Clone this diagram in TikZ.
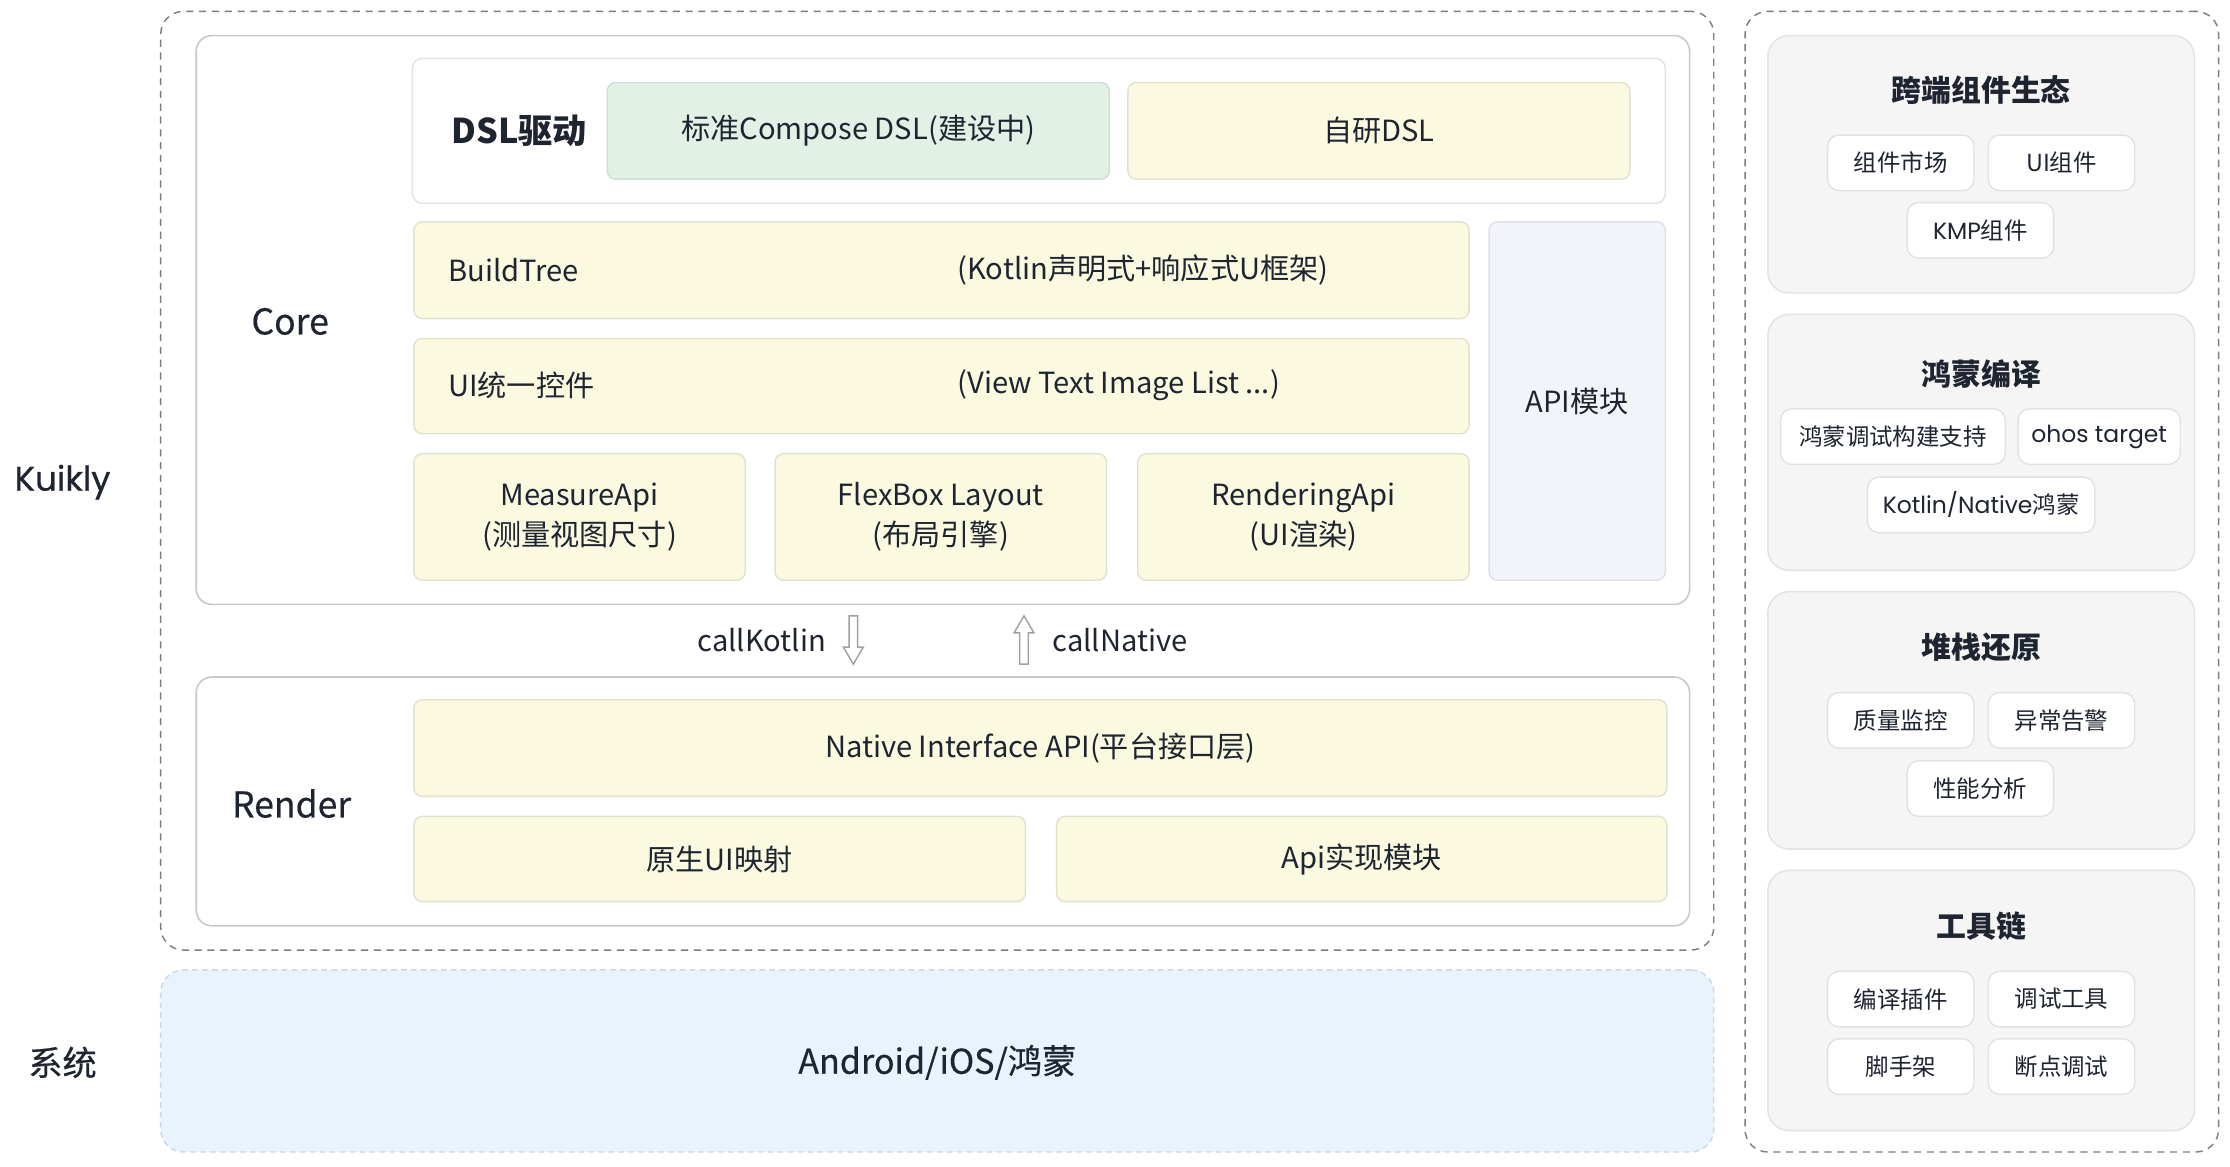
\documentclass[tikz,border=0pt]{standalone}
\usepackage{fontspec}
\setmainfont{Noto Sans CJK SC}
\newfontfamily\pop{Poppins}
\newfontfamily\popm[FakeBold=0.7]{Poppins}
\newfontfamily\cjkm[FakeBold=0.5]{Noto Sans CJK SC}
\definecolor{ink}{RGB}{30,36,48}
\definecolor{yel}{RGB}{251,250,224}
\definecolor{yelb}{RGB}{225,225,208}
\definecolor{grn}{RGB}{226,241,229}
\definecolor{grnb}{RGB}{205,222,210}
\definecolor{lav}{RGB}{243,244,250}
\definecolor{lavb}{RGB}{222,224,232}
\definecolor{cb}{RGB}{200,200,200}
\definecolor{sys}{RGB}{232,243,253}
\definecolor{sysb}{RGB}{205,215,225}
\definecolor{pan}{RGB}{245,245,246}
\definecolor{panb}{RGB}{226,226,228}
\definecolor{dsh}{RGB}{125,125,125}
\definecolor{arrg}{RGB}{160,160,160}
\newcommand\fsz[1]{\fontsize{#1}{#1}\selectfont}
\tikzset{
  x=1pt,y=1pt,
  base/.style={inner sep=0pt, outer sep=0pt, anchor=north west, text=ink},
  dashbox/.style={base, draw=dsh, line width=1pt, dash pattern=on 5pt off 4pt, rounded corners=16pt},
  layer/.style={base, draw=cb, line width=1.1pt, fill=white, rounded corners=11pt},
  ybox/.style={base, fill=yel, draw=yelb, line width=1pt, rounded corners=6pt, font=\fsz{20.5}, align=center},
  gbox/.style={ybox, fill=grn, draw=grnb},
  abox/.style={ybox, fill=lav, draw=lavb},
  sysbox/.style={base, fill=sys, draw=sysb, line width=1pt, dash pattern=on 4pt off 3pt, rounded corners=16pt},
  panel/.style={base, fill=pan, draw=panb, line width=1pt, rounded corners=15pt},
  chip/.style={inner sep=0pt, outer sep=0pt, anchor=center, text=ink, fill=white, draw=panb, line width=1pt, rounded corners=8pt, font=\fsz{16.5}, minimum height=39},
  ptitle/.style={inner sep=0pt, text=ink, font=\fsz{21}\bfseries},
  big/.style={inner sep=0pt, text=ink, font=\fsz{25}\cjkm},
  lbl/.style={inner sep=0pt, text=ink, font=\fsz{20.5}},
  hollow/.style={draw=arrg, fill=white, line width=1pt, line join=miter},
}
\begin{document}
\begin{tikzpicture}
\useasboundingbox (0,0) rectangle (1568,-820);
\fill[white] (0,0) rectangle (1568,-820);

% outer dashed containers
\node[dashbox, minimum width=1092, minimum height=660] (kuikly) at (113,-8) {};
\node[dashbox, minimum width=333, minimum height=802] (eco) at (1227,-8) {};

% side labels
\node[inner sep=0pt, text=ink, font=\fsz{24}\popm] (lk) at (44,-339) {Kuikly};
\node[big, font=\fsz{24}\cjkm] (ls) at (44,-747) {系统};

% Core layer
\node[layer, minimum width=1050, minimum height=400] (core) at (138,-25) {};
\node[big] (lcore) at (204,-226) {Core};
\node[base, fill=white, draw=panb, line width=1pt, rounded corners=7pt, minimum width=881, minimum height=102] (dslrow) at (290,-41) {};
\node[inner sep=0pt, text=ink, font=\fsz{24}\bfseries] (ldsl) at (365,-92) {DSL驱动};
\node[gbox, minimum width=353, minimum height=68] (compose) at (427,-58) {标准Compose DSL(建设中)};
\node[ybox, minimum width=353, minimum height=68] (selfdsl) at (793,-58) {自研DSL};

\node[ybox, minimum width=742, minimum height=68] (bt) at (291,-156) {};
\node[lbl, anchor=west] (btl) at (315,-190) {BuildTree};
\node[lbl, anchor=west] (btr) at (673,-190) {(Kotlin声明式+响应式U框架)};
\node[ybox, minimum width=742, minimum height=67] (ui) at (291,-238) {};
\node[lbl, anchor=west] (uil) at (315,-271) {UI统一控件};
\node[lbl, anchor=west] (uir) at (673,-271) {(View Text Image List ...)};

\node[ybox, minimum width=233, minimum height=89] (measure) at (291,-319) {MeasureApi\\[5pt](测量视图尺寸)};
\node[ybox, minimum width=233, minimum height=89] (flex) at (545,-319) {FlexBox Layout\\[5pt](布局引擎)};
\node[ybox, minimum width=233, minimum height=89] (rendapi) at (800,-319) {RenderingApi\\[5pt](UI渲染)};
\node[abox, minimum width=124, minimum height=252] (api) at (1047,-156) {API模块};

% calls (hollow block arrows)
\coordinate (ak) at (600,-450);
\coordinate (an) at (720,-450);
\draw[hollow] (ak) ++(-3,17) -- ++(0,-22) -- ++(-4,0) -- ++(7,-12) -- ++(7,12) -- ++(-4,0) -- ++(0,22) -- cycle;
\draw[hollow] (an) ++(-3,-17) -- ++(0,22) -- ++(-4,0) -- ++(7,12) -- ++(7,-12) -- ++(-4,0) -- ++(0,-22) -- cycle;
\node[lbl, anchor=east] (lck) at (581,-450) {callKotlin};
\node[lbl, anchor=west] (lcn) at (740,-450) {callNative};

% Render layer
\node[layer, minimum width=1050, minimum height=175] (render) at (138,-476) {};
\node[big] (lrender) at (205,-565) {Render};
\node[ybox, minimum width=881, minimum height=68] (nia) at (291,-492) {Native Interface API(平台接口层)};
\node[ybox, minimum width=430, minimum height=60] (map) at (291,-574) {原生UI映射};
\node[ybox, minimum width=429, minimum height=60] (impl) at (743,-574) {Api实现模块};

% System
\node[sysbox, minimum width=1092, minimum height=128] (sysl) at (113,-682) {};
\node[big, font=\fsz{24}\cjkm] (os) at (659,-747) {Android/iOS/鸿蒙};

% right panels
\node[panel, minimum width=300, minimum height=181] (p1) at (1243,-25) {};
\node[ptitle] (t1) at (1393,-63) {跨端组件生态};
\node[chip, minimum width=103] (c11) at (1336.5,-114.5) {组件市场};
\node[chip, minimum width=103] (c12) at (1449.5,-114.5) {UI组件};
\node[chip, minimum width=103] (c13) at (1392.5,-162) {{\pop KMP}组件};

\node[panel, minimum width=300, minimum height=180] (p2) at (1243,-221) {};
\node[ptitle] (t2) at (1393,-263) {鸿蒙编译};
\node[chip, minimum width=158] (c21) at (1331,-307) {鸿蒙调试构建支持};
\node[chip, minimum width=114] (c22) at (1476,-307) {\pop ohos target};
\node[chip, minimum width=160] (c23) at (1393,-355) {{\pop Kotlin/Native}鸿蒙};

\node[panel, minimum width=300, minimum height=181] (p3) at (1243,-416) {};
\node[ptitle] (t3) at (1393,-455) {堆栈还原};
\node[chip, minimum width=103] (c31) at (1336.5,-506.5) {质量监控};
\node[chip, minimum width=103] (c32) at (1449.5,-506.5) {异常告警};
\node[chip, minimum width=103] (c33) at (1392.5,-554.5) {性能分析};

\node[panel, minimum width=300, minimum height=183] (p4) at (1243,-612) {};
\node[ptitle] (t4) at (1393,-651) {工具链};
\node[chip, minimum width=103] (c41) at (1336.5,-702.5) {编译插件};
\node[chip, minimum width=103] (c42) at (1449.5,-702.5) {调试工具};
\node[chip, minimum width=103] (c43) at (1336.5,-750) {脚手架};
\node[chip, minimum width=103] (c44) at (1449.5,-750) {断点调试};
\end{tikzpicture}
\end{document}
